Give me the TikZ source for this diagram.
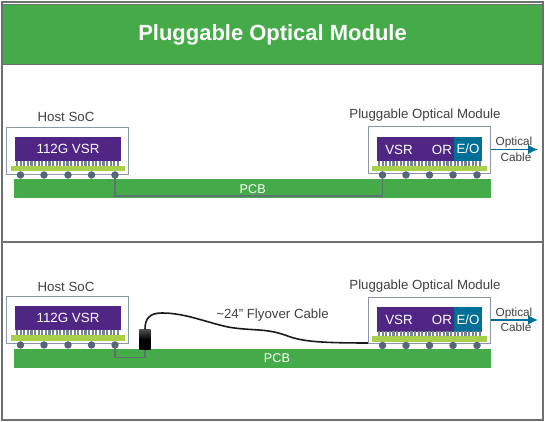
\documentclass[tikz,border=0pt]{standalone}
\usepackage{fontspec}
\setmainfont{Liberation Sans}
\usetikzlibrary{arrows.meta,positioning}

\definecolor{pcbgreen}{HTML}{45AB48}
\definecolor{subgreen}{HTML}{A9D04B}
\definecolor{diepurple}{HTML}{4F2683}
\definecolor{eoteal}{HTML}{006F98}
\definecolor{boxgray}{HTML}{8C96A8}
\definecolor{ballgray}{HTML}{56657A}
\definecolor{tracegray}{HTML}{5E7370}
\definecolor{framegray}{HTML}{6F6F6F}

\tikzset{
  pcbbox/.style={fill=pcbgreen, inner sep=0pt, minimum height=0.38cm, text=white, font=\fontsize{7.2}{8}\selectfont},
  packbox/.style={draw=boxgray, line width=0.6pt, fill=white, inner sep=0pt, minimum height=0.93cm},
  diebox/.style={fill=diepurple, inner sep=0pt, minimum height=0.49cm, text=white, font=\fontsize{7.6}{9}\selectfont},
  eobox/.style={fill=eoteal, inner sep=0pt, minimum width=0.56cm, minimum height=0.49cm, text=white, font=\fontsize{7.6}{9}\selectfont},
  dietext/.style={text=white, font=\fontsize{7.6}{9}\selectfont},
  subbox/.style={fill=subgreen, inner sep=0pt, minimum width=2.3cm, minimum height=0.11cm},
  ball/.style={circle, fill=ballgray, inner sep=0pt, minimum size=0.15cm},
  pins/.style={ballgray!80, line width=0.1cm, dash pattern=on 0.045cm off 0.027cm},
  trace/.style={tracegray, line width=0.7pt},
  label/.style={text=black!75, font=\fontsize{7.55}{9}\selectfont},
  cablelabel/.style={text=black!75, font=\fontsize{6.7}{8}\selectfont},
  fiber/.style={eoteal, line width=0.8pt, -{Latex[length=2mm,width=1.9mm]}}
}

\begin{document}
\begin{tikzpicture}[x=0.02cm,y=-0.02cm]
\useasboundingbox (0,0) rectangle (545,422);

% Frame
\draw[framegray, line width=0.8pt] (2,2) rectangle (543,420);
\node[fill=pcbgreen, draw=framegray, line width=0.6pt, inner sep=0pt, minimum width=10.82cm, minimum height=1.2cm, text=white, font=\fontsize{12.5}{14}\bfseries\selectfont] (title) at (272.5,34.5) {Pluggable Optical Module};
\draw[framegray, line width=0.8pt] (2,242) -- (543,242);

% Top row
\node[pcbbox, minimum width=9.53cm] (pcbA) at (252.7,189) {PCB};
\node[packbox, minimum width=2.45cm] (hostA) at (67.7,151) {};
\node[packbox, minimum width=2.45cm] (modA) at (429.7,150.2) {};
\node[diebox, minimum width=2.12cm] (dieHostA) at (68,149) {112G VSR};
\node[subbox] (subHostA) at (68,168.5) {};
\draw[pins] (16,163.5) -- (120,163.5);
\node[diebox, minimum width=1.55cm] (dieModA) at (415.5,149) {};
\node[eobox] (eoA) at (468,149) {E/O};
\node[dietext] (vsrA) at (399,149.5) {VSR};
\node[dietext] (orA) at (442,149.5) {OR};
\node[subbox] (subModA) at (429.7,168.5) {};
\draw[pins] (378,163.5) -- (482,163.5);
\foreach \i/\x in {1/20.5,2/44,3/68,4/91.5,5/115}
  \node[ball] (hA\i) at (\x,175) {};
\foreach \i/\x in {1/382.5,2/406,3/429.5,4/453,5/477}
  \node[ball] (mA\i) at (\x,175) {};
\draw[trace] (hA5.center) |- (113,196) -- (382.5,196) -- (mA1.center);
\node[label] (hostlabelA) at (66,117) {Host SoC};
\node[label] (modlabelA) at (425,115.5) {Pluggable Optical Module};
\coordinate (endA) at (538,149.5);
\draw[fiber] (modA.east |- endA) -- (endA);
\node[cablelabel] (optA) at (514,142) {Optical};
\node[cablelabel] (cabA) at (516,157) {Cable};

% Bottom row
\node[pcbbox, minimum width=9.53cm] (pcbB) at (252.7,358.5) {};
\node[text=white, font=\fontsize{7.2}{8}\selectfont] (pcblabelB) at (277,358.5) {PCB};
\node[packbox, minimum width=2.45cm] (modB) at (429.7,320.5) {};
\node[packbox, minimum width=2.45cm] (hostB) at (67.7,320) {};
\node[diebox, minimum width=2.12cm] (dieHostB) at (68,318) {112G VSR};
\node[subbox] (subHostB) at (68,338) {};
\draw[pins] (16,333) -- (120,333);
\node[diebox, minimum width=1.55cm] (dieModB) at (415.5,319.5) {};
\node[eobox] (eoB) at (468,319.5) {E/O};
\node[dietext] (vsrB) at (399,320) {VSR};
\node[dietext] (orB) at (442,320) {OR};
\node[subbox] (subModB) at (429.7,339) {};
\draw[pins] (378,334) -- (482,334);
\foreach \i/\x in {1/20.5,2/44,3/68,4/91.5,5/115}
  \node[ball] (hB\i) at (\x,345) {};
\foreach \i/\x in {1/382.5,2/406,3/429.5,4/453,5/477}
  \node[ball] (mB\i) at (\x,345.5) {};
\node[top color=black!70, bottom color=black, middle color=black, inner sep=0pt, minimum width=0.23cm, minimum height=0.39cm] (plug) at (145,339.5) {};
\draw[trace] (hB5.center) |- (plug.south |- 0,357.5) -- (plug.south);
% Flyover
\draw[black!90, line width=0.9pt] (plug.north) .. controls (145,318) and (150,313) .. (162,313) .. controls (185,313) and (205,322) .. (228,327) .. controls (250,331) and (265,328) .. (285,335) .. controls (300,341) and (315,343) .. (modB.west |- 0,343);
\node[label] (hostlabelB) at (66,287) {Host SoC};
\node[label] (modlabelB) at (425,286.5) {Pluggable Optical Module};
\node[label] (flyover) at (272.5,315) {\textasciitilde24” Flyover Cable};
\coordinate (endB) at (538,320);
\draw[fiber] (modB.east |- endB) -- (endB);
\node[cablelabel] (optB) at (514,313) {Optical};
\node[cablelabel] (cabB) at (516,327.5) {Cable};
\end{tikzpicture}
\end{document}
